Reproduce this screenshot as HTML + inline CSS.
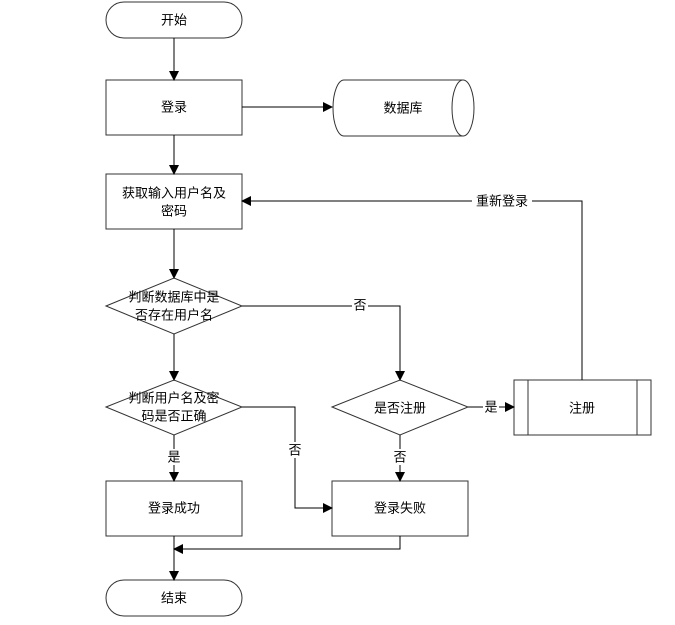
<!DOCTYPE html>
<html><head><meta charset="utf-8"><style>body{margin:0;background:#fff}svg{display:block}text{font-family:"Liberation Sans","Noto Sans CJK SC",sans-serif;font-size:13px;fill:#000;text-anchor:middle;dominant-baseline:central}</style></head><body>
<svg width="675" height="625" viewBox="0 0 675 625">
<defs><marker id="a" markerWidth="10" markerHeight="10" refX="9" refY="5" orient="auto" markerUnits="userSpaceOnUse"><path d="M0,0 L10,5 L0,10 z" fill="#000"/></marker></defs>
<g fill="#fff" stroke="#333" stroke-width="1">
<rect x="106" y="2" width="136" height="36" rx="18"/>
<rect x="106" y="80" width="136" height="55"/>
<path d="M344,80 H463 A11,28 0 0 1 463,136 H344 A11,28 0 0 1 344,80 Z"/>
<path d="M463,80 A11,28 0 0 0 463,136"/>
<rect x="106" y="174" width="136" height="55"/>
<polygon points="106,306 174,278 242,306 174,334"/>
<polygon points="106,407 174,380 242,407 174,435"/>
<polygon points="332,407 400,380 468,407 400,435"/>
<rect x="514" y="380" width="137" height="55"/>
<line x1="528" y1="380" x2="528" y2="435"/><line x1="637" y1="380" x2="637" y2="435"/>
<rect x="106" y="481" width="136" height="55"/>
<rect x="332" y="481" width="136" height="55"/>
<rect x="106" y="580" width="136" height="36" rx="18"/>
</g>
<g fill="none" stroke="#000" stroke-width="1" marker-end="url(#a)">
<line x1="174" y1="38" x2="174" y2="80"/>
<line x1="242" y1="107" x2="332" y2="107"/>
<line x1="174" y1="135" x2="174" y2="174"/>
<line x1="174" y1="229" x2="174" y2="278"/>
<polyline points="242,306 400,306 400,380"/>
<line x1="174" y1="334" x2="174" y2="380"/>
<polyline points="242,407 295,407 295,508 332,508"/>
<line x1="174" y1="435" x2="174" y2="481"/>
<line x1="400" y1="435" x2="400" y2="481"/>
<line x1="468" y1="407" x2="514" y2="407"/>
<polyline points="582,380 582,201 242,201"/>
<polyline points="400,536 400,549 174,549"/>
<line x1="174" y1="536" x2="174" y2="580"/>
</g>
<g fill="#fff"><rect x="352" y="297" width="16" height="16"/><rect x="287" y="442" width="16" height="16"/><rect x="166" y="449" width="16" height="16"/><rect x="392" y="449" width="16" height="16"/><rect x="483" y="399" width="16" height="16"/><rect x="472" y="193" width="60" height="16"/></g>
<text x="174" y="20">开始</text>
<text x="174" y="107">登录</text>
<text x="403" y="108">数据库</text>
<text x="174" y="193">获取输入用户名及</text><text x="174" y="211">密码</text>
<text x="174" y="297">判断数据库中是</text><text x="174" y="315">否存在用户名</text>
<text x="174" y="398">判断用户名及密</text><text x="174" y="416">码是否正确</text>
<text x="400" y="408">是否注册</text>
<text x="582" y="408">注册</text>
<text x="174" y="508">登录成功</text>
<text x="400" y="508">登录失败</text>
<text x="174" y="598">结束</text>
<text x="360" y="305">否</text>
<text x="295" y="450">否</text>
<text x="174" y="457">是</text>
<text x="400" y="457">否</text>
<text x="491" y="407">是</text>
<text x="502" y="201">重新登录</text>
</svg></body></html>
